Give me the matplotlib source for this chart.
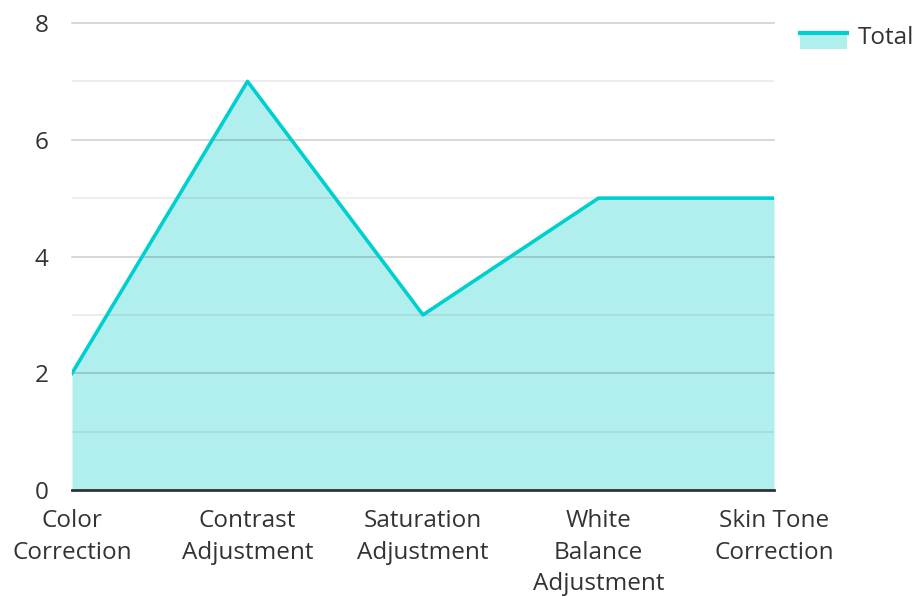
import matplotlib.pyplot as plt
from matplotlib.legend_handler import HandlerBase
from matplotlib.patches import Rectangle
from matplotlib.lines import Line2D

categories = ["Color\nCorrection", "Contrast\nAdjustment", "Saturation\nAdjustment",
              "White\nBalance\nAdjustment", "Skin Tone\nCorrection"]
totals = [2, 7, 3, 5, 5]
series_name = "Total"

LINE = "#00cfd0"
FILL = "#b1efee"
TEXT = "#333333"
FS = 17.5

plt.rcParams["font.family"] = ["Open Sans", "DejaVu Sans"]


class AreaHandler(HandlerBase):
    def create_artists(self, legend, orig, xd, yd, w, h, fontsize, trans):
        rect = Rectangle((-xd, -yd - 0.3 * h), w, h, facecolor=FILL, edgecolor="none", transform=trans)
        top = -yd + 0.65 * h
        line = Line2D([-xd, -xd + w], [top, top], color=LINE, lw=3, transform=trans)
        return [rect, line]


fig = plt.figure(figsize=(9.16, 5.97), dpi=100)
ax = fig.add_axes([72 / 916, 1 - 490 / 597, 702 / 916, 467 / 597])

x = list(range(len(categories)))
ax.fill_between(x, totals, 0, color=FILL, lw=0, zorder=1)
ax.plot(x, totals, color=LINE, lw=2.6, zorder=3)

ax.set_xlim(0, len(categories) - 1)
ax.set_ylim(0, 8)
ax.set_yticks(range(0, 9, 2))
ax.set_yticks(range(1, 9, 2), minor=True)
ax.grid(axis="y", which="major", color="#000000", alpha=0.2, lw=1.1, zorder=2)
ax.grid(axis="y", which="minor", color="#000000", alpha=0.09, lw=1.1, zorder=2)
ax.set_axisbelow(False)
for gl in ax.get_ygridlines():
    gl.set_clip_on(False)

ax.set_xticks(x)
ax.set_xticklabels(categories, fontsize=FS, color=TEXT, linespacing=1.4)
ax.tick_params(axis="y", which="both", length=0, labelsize=FS, labelcolor=TEXT, pad=17)
ax.tick_params(axis="x", length=0, pad=14)

for side in ["top", "right", "left"]:
    ax.spines[side].set_visible(False)
ax.spines["bottom"].set_color("#333333")
ax.spines["bottom"].set_linewidth(2)
ax.spines["bottom"].set_zorder(4)

fig.legend([object()], [series_name], handler_map={object: AreaHandler()},
           loc="upper left", bbox_to_anchor=(800 / 916, 1 - 26 / 597), frameon=False,
           borderaxespad=0, borderpad=0, fontsize=FS, labelcolor=TEXT,
           handlelength=1.95, handletextpad=0.42)

fig.savefig("out.png", dpi=100)
